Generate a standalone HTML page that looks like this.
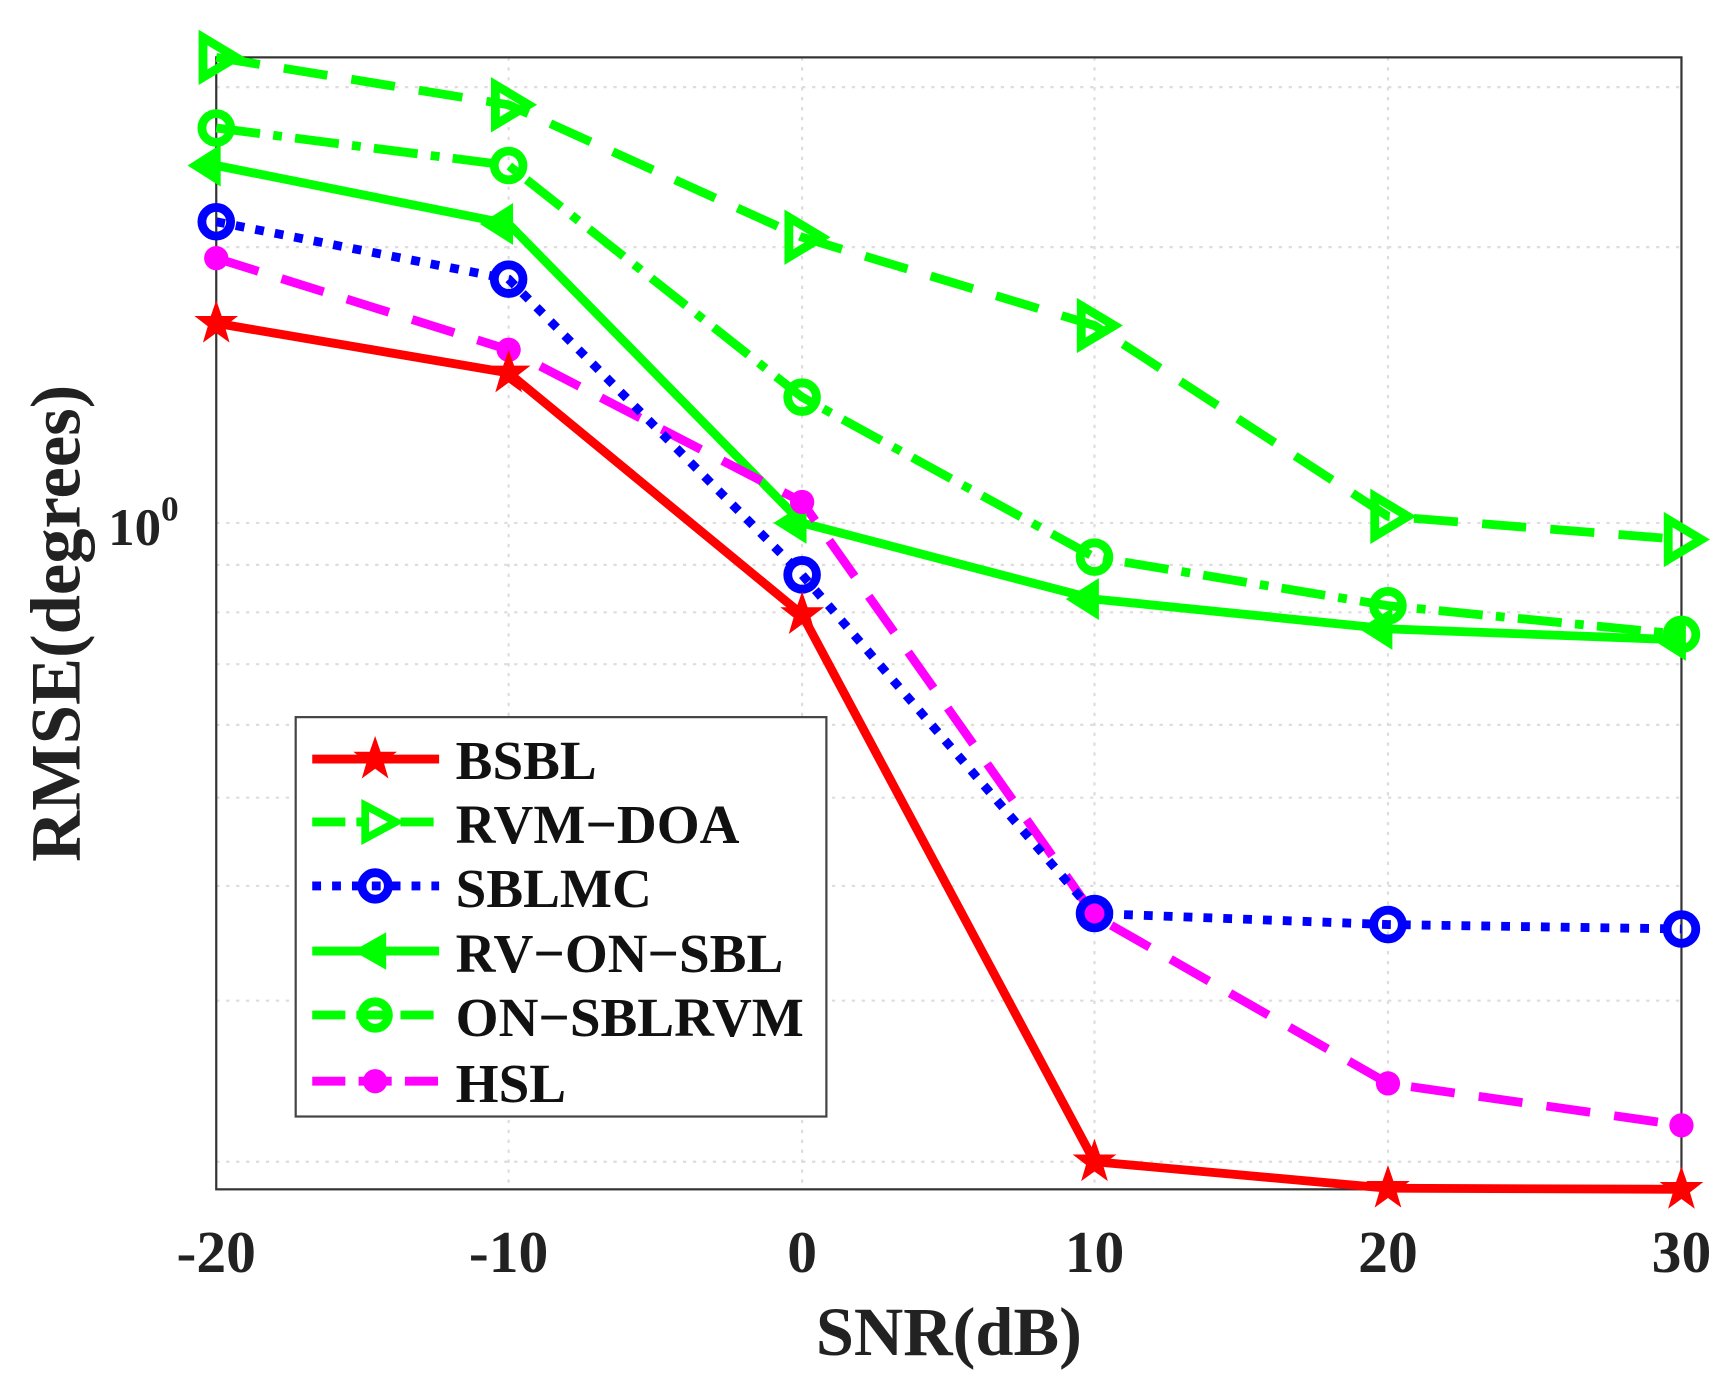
<!DOCTYPE html>
<html><head><meta charset="utf-8"><style>html,body{margin:0;padding:0;background:#fff}svg{display:block}</style></head>
<body>
<svg width="1730" height="1393" viewBox="0 0 1568 1262.6" preserveAspectRatio="none" xmlns="http://www.w3.org/2000/svg" font-family="Liberation Serif, serif" font-weight="bold">
<defs>
<symbol id="star" viewBox="-20 -20 40 40" overflow="visible"><polygon points="0,-19 4.5,-6 18,-6 7,2.5 11,16 0,8 -11,16 -7,2.5 -18,-6 -4.5,-6" fill="#f00"/></symbol>
</defs>
<g stroke="#ddd" stroke-width="2" stroke-dasharray="3,6">
<line x1="196" x2="1524" y1="79" y2="79"/>
<line x1="196" x2="1524" y1="224" y2="224"/>
<line x1="196" x2="1524" y1="474" y2="474"/>
<line x1="196" x2="1524" y1="512" y2="512"/>
<line x1="196" x2="1524" y1="555" y2="555"/>
<line x1="196" x2="1524" y1="602" y2="602"/>
<line x1="196" x2="1524" y1="657" y2="657"/>
<line x1="196" x2="1524" y1="723" y2="723"/>
<line x1="196" x2="1524" y1="803" y2="803"/>
<line x1="196" x2="1524" y1="907" y2="907"/>
<line x1="196" x2="1524" y1="1053" y2="1053"/>
<line y1="52" y2="1078" x1="461" x2="461"/>
<line y1="52" y2="1078" x1="727" x2="727"/>
<line y1="52" y2="1078" x1="992" x2="992"/>
<line y1="52" y2="1078" x1="1258" x2="1258"/>
</g>
<rect x="196" y="52" width="1328" height="1026" fill="none" stroke="#333" stroke-width="2"/>
<g stroke-width="8" fill="none" stroke-linejoin="round">
<polyline points="196,116 461,150 727,360 992,505 1258,549 1524,575" stroke="#0f0" stroke-dasharray="40,12,8,12"/>
<polyline points="196,52 461,95 727,215 992,295 1258,468 1524,489" stroke="#0f0" stroke-dasharray="40,22"/>
<polyline points="196,150 461,203 727,474 992,543 1258,570 1524,580" stroke="#0f0"/>
<polyline points="196,234 461,317 727,455 992,830 1258,982 1524,1020" stroke="#f0f" stroke-dasharray="40,22"/>
<polyline points="196,201 461,253 727,521 992,828 1258,838 1524,842" stroke="#00f" stroke-dasharray="8,10"/>
<polyline points="196,293 461,338 727,557 992,1053 1258,1077 1524,1078" stroke="#f00"/>
</g>
<g fill="none" stroke="#0f0" stroke-width="8">
<polygon points="184,34 214,52 184,70"/><polygon points="449,77 479,95 449,113"/><polygon points="715,197 745,215 715,233"/><polygon points="980,277 1010,295 980,313"/><polygon points="1246,450 1276,468 1246,486"/><polygon points="1512,471 1542,489 1512,507"/>
<circle cx="196" cy="116" r="13"/><circle cx="461" cy="150" r="13"/><circle cx="727" cy="360" r="13"/><circle cx="992" cy="505" r="13"/><circle cx="1258" cy="549" r="13"/><circle cx="1524" cy="575" r="13"/>
</g>
<g fill="#0f0">
<polygon points="170,150 200,131 200,169"/><polygon points="435,203 465,184 465,222"/><polygon points="701,474 731,455 731,493"/><polygon points="966,543 996,524 996,562"/><polygon points="1232,570 1262,551 1262,589"/><polygon points="1498,580 1528,561 1528,599"/>
</g>
<g fill="#f0f"><circle cx="196" cy="234" r="11"/><circle cx="461" cy="317" r="11"/><circle cx="727" cy="455" r="11"/><circle cx="992" cy="830" r="11"/><circle cx="1258" cy="982" r="11"/><circle cx="1524" cy="1020" r="11"/></g>
<g fill="none" stroke="#00f" stroke-width="8"><circle cx="196" cy="201" r="13"/><circle cx="461" cy="253" r="13"/><circle cx="727" cy="521" r="13"/><circle cx="992" cy="828" r="13"/><circle cx="1258" cy="838" r="13"/><circle cx="1524" cy="842" r="13"/></g>
<g><use href="#star" x="174" y="271" width="44" height="44"/><use href="#star" x="439" y="316" width="44" height="44"/><use href="#star" x="705" y="535" width="44" height="44"/><use href="#star" x="970" y="1031" width="44" height="44"/><use href="#star" x="1236" y="1055" width="44" height="44"/><use href="#star" x="1502" y="1056" width="44" height="44"/></g>
<rect x="268" y="650" width="481" height="362" fill="#fff" stroke="#444" stroke-width="2"/>
<g stroke-width="8">
<line x1="283" x2="398" y1="688" y2="688" stroke="#f00"/>
<line x1="283" x2="398" y1="745" y2="745" stroke="#0f0" stroke-dasharray="30,10"/>
<line x1="283" x2="398" y1="803" y2="803" stroke="#00f" stroke-dasharray="8,10"/>
<line x1="283" x2="398" y1="862" y2="862" stroke="#0f0"/>
<line x1="283" x2="398" y1="920" y2="920" stroke="#0f0" stroke-dasharray="30,10"/>
<line x1="283" x2="398" y1="980" y2="980" stroke="#f0f" stroke-dasharray="30,12"/>
</g>
<use href="#star" x="318" y="666" width="44" height="44"/>
<polygon points="331,730 359,745 331,760" fill="#fff" stroke="#0f0" stroke-width="7"/>
<circle cx="340" cy="803" r="12" fill="none" stroke="#00f" stroke-width="8"/>
<polygon points="320,862 350,845 350,879" fill="#0f0"/>
<circle cx="340" cy="920" r="12" fill="none" stroke="#0f0" stroke-width="8"/>
<circle cx="340" cy="980" r="11" fill="#f0f"/>
<g font-size="50" fill="#111">
<text x="413" y="706">BSBL</text>
<text x="413" y="764">RVM−DOA</text>
<text x="413" y="822">SBLMC</text>
<text x="413" y="881">RV−ON−SBL</text>
<text x="413" y="939">ON−SBLRVM</text>
<text x="413" y="999">HSL</text>
</g>
<g font-size="54" fill="#222" text-anchor="middle">
<text x="196" y="1153">-20</text><text x="461" y="1153">-10</text><text x="727" y="1153">0</text><text x="992" y="1153">10</text><text x="1258" y="1153">20</text><text x="1524" y="1153">30</text>
</g>
<text x="98" y="494" font-size="48" fill="#222">10<tspan font-size="32" dy="-22">0</tspan></text>
<text x="860" y="1228" font-size="62" text-anchor="middle" fill="#222">SNR(dB)</text>
<text transform="translate(72,565) rotate(-90)" font-size="64" text-anchor="middle" fill="#222">RMSE(degrees)</text>
</svg>
</body></html>
